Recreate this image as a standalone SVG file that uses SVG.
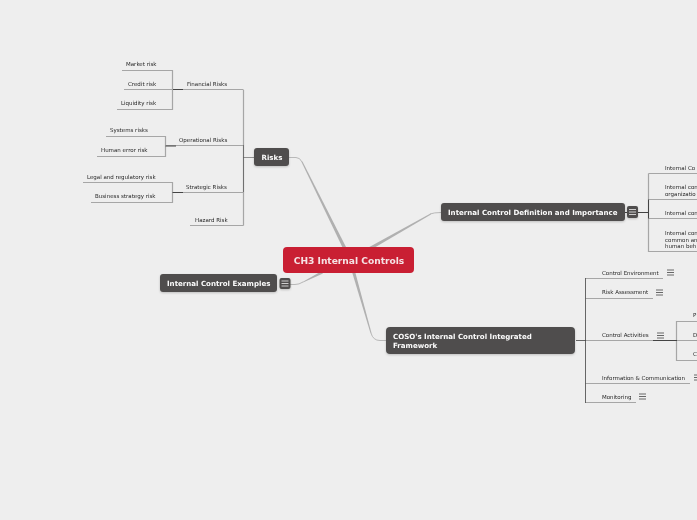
<svg xmlns="http://www.w3.org/2000/svg" width="697" height="520" viewBox="0 0 697 520">
<defs><filter id="s" x="-10%" y="-20%" width="120%" height="150%"><feDropShadow dx="0" dy="1" stdDeviation="1" flood-color="#000" flood-opacity="0.2"/></filter></defs>
<style>
text{font-family:"DejaVu Sans",Verdana,sans-serif;opacity:.98}
.l{font-size:5.5px;fill:#222}
.n{font-size:7.05px;font-weight:bold;fill:#fff}
.box{fill:#4f4e4d;filter:url(#s)}
.c{fill:none;stroke:#b8b8b8;stroke-width:1}
.t{fill:#b0b0b0;stroke:none}
.g{fill:none;stroke:#a6a6a6;stroke-width:1.2}
.d{fill:none;stroke:#444;stroke-width:1}
.m{stroke:#444;stroke-width:.8;fill:none}
.mw{stroke:#eee;stroke-width:.8;fill:none}
</style>
<rect width="697" height="520" fill="#eeeeee"/>
<g id="connectors">
<path class="c" d="M289 157.500H296Q300 157.500 302 162"/>
<path class="t" d="M301.500 162L302.500 161.500L346.500 248L343.500 249.500Z"/>
<path class="t" d="M344.500 247L348.500 247L371.500 333L370.500 333.300Z"/>
<path class="c" d="M371 333Q373 340.500 380 340.500H386"/>
<path class="t" d="M367.500 248L370.500 250L431 214.500L430.500 213.500Z"/>
<path class="c" d="M430 214Q434 212.500 441 212.500"/>
<path class="t" d="M320.500 271.800L323 273.500L303 282.500L302.500 282Z"/>
<path class="c" d="M303 282Q299 284.500 295 284.500H290"/>
<path class="g" d="M243.500 90V225.500M190 225.500H243.500M173 89.500H243.500M166 145.500H243.500M172 192.500H243.500"/>
<path class="d" d="M243.500 157.500H254M243.500 145V192" stroke-opacity=".55"/>
<path class="g" d="M122 70.500H172.500V109.500H117M124 89.500H172.500M106 136.500H165.500V156.500H97M83 182.500H172.500V202.500H91"/>
<path class="d" d="M173 89.500H183M165.500 146H176M172.500 192.500H183"/>
<path class="g" d="M648.500 173.500V251.500H697M648.500 173.500H697M648.500 199.500H697M648.500 218.500H697"/>
<path class="d" d="M625 212.500H627M638 212.500H648.500M648.500 199.500V218.500"/>
<path class="g" d="M585.500 278.500H663M585.500 298.500H653M585.500 383.500H690M585.500 402.500H636M585.500 340.500H653"/>
<path class="d" d="M576 340.500H586M585.500 278V403" stroke-opacity=".8"/>
<path class="g" d="M697 321.500H676.500V360.500H697M676.500 340.500H697"/>
<path class="d" d="M653 340.500H677"/>
</g>
<g id="central"><rect x="283" y="247" width="131" height="26" rx="4" fill="#c91f33"/><text x="349" y="263.700" text-anchor="middle" font-size="9.100" font-weight="bold" fill="#f6e7e9">CH3 Internal Controls</text></g>
<g id="risks"><rect class="box" x="254" y="148" width="35" height="18" rx="3"/><text class="n" x="272" y="160" text-anchor="middle">Risks</text></g>
<g id="definition"><rect class="box" x="441" y="203" width="184" height="18" rx="3"/><text class="n" x="448" y="215">Internal Control Definition and Importance</text>
<rect class="box" x="627" y="206" width="11" height="12" rx="2"/><path class="mw" d="M629 209.500h7M629 212h7M629 214.500h7"/></g>
<g id="examples"><rect class="box" x="160" y="274" width="117" height="18" rx="3"/><text class="n" x="167" y="286">Internal Control Examples</text>
<rect class="box" x="279.500" y="278" width="11" height="11" rx="2"/><path class="mw" d="M281.500 281h7M281.500 283.500h7M281.500 286h7"/></g>
<g id="coso"><rect class="box" x="386" y="327" width="189" height="27" rx="4"/><text class="n" x="393" y="339">COSO's Internal Control Integrated</text><text class="n" x="393" y="348">Framework</text></g>
<g id="financial"><text class="l" x="187" y="86">Financial Risks</text></g>
<g id="market"><text class="l" x="126" y="66">Market risk</text></g>
<g id="credit"><text class="l" x="128" y="86">Credit risk</text></g>
<g id="liquidity"><text class="l" x="121" y="105">Liquidity risk</text></g>
<g id="operational"><text class="l" x="179" y="142">Operational Risks</text></g>
<g id="systems"><text class="l" x="110" y="132">Systems risks</text></g>
<g id="human"><text class="l" x="101" y="152">Human error risk</text></g>
<g id="strategic"><text class="l" x="186" y="189">Strategic Risks</text></g>
<g id="legal"><text class="l" x="87" y="179">Legal and regulatory risk</text></g>
<g id="business"><text class="l" x="95" y="198">Business strategy risk</text></g>
<g id="hazard"><text class="l" x="195" y="222">Hazard Risk</text></g>
<g id="d1"><text class="l" x="665" y="170">Internal Co</text></g>
<g id="d2"><text class="l" x="665" y="189">Internal con</text><text class="l" x="665" y="196">organizatio</text></g>
<g id="d3"><text class="l" x="665" y="215">Internal con</text></g>
<g id="d4"><text class="l" x="665" y="235">Internal con</text><text class="l" x="665" y="241.500">common an</text><text class="l" x="665" y="248">human beh</text></g>
<g id="env"><text class="l" x="602" y="275">Control Environment</text><path class="m" d="M667 270h7M667 272.500h7M667 275h7"/></g>
<g id="riskass"><text class="l" x="602" y="294">Risk Assessment</text><path class="m" d="M656 290h7M656 292.500h7M656 295h7"/></g>
<g id="activities"><text class="l" x="602" y="337">Control Activities</text><path class="m" d="M657 333h7M657 335.500h7M657 338h7"/></g>
<g id="p"><text class="l" x="693" y="317">P</text></g>
<g id="dd"><text class="l" x="693" y="337">D</text></g>
<g id="cc"><text class="l" x="693" y="356">C</text></g>
<g id="info"><text class="l" x="602" y="380">Information &amp; Communication</text><path class="m" d="M694 375h3M694 377.500h3M694 380h3"/></g>
<g id="monitoring"><text class="l" x="602" y="399">Monitoring</text><path class="m" d="M639 394h7M639 396.500h7M639 399h7"/></g>
</svg>
